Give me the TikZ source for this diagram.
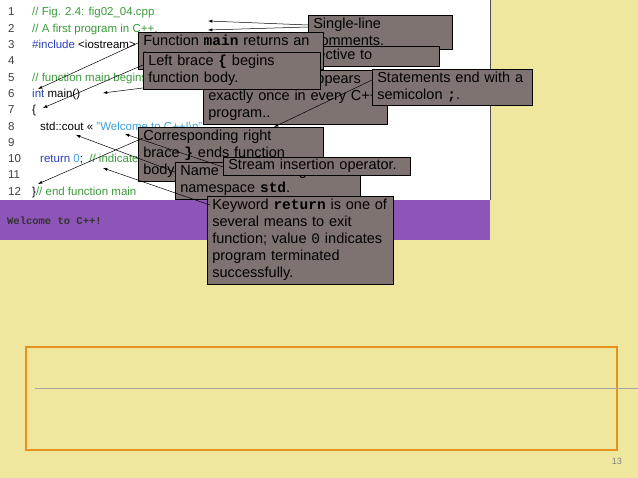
\documentclass[tikz,border=0pt]{standalone}
\usepackage{fontspec}
\setmainfont{Liberation Sans}
\setmonofont{Liberation Mono}
\begin{document}
\begin{tikzpicture}[x=1pt,y=-1pt,
  callout/.style={draw=black,fill=callgray,anchor=north west,align=left,inner ysep=3pt,inner xsep=5pt,font=\fontsize{14.5}{17}\selectfont,text=black,line width=0.6pt},
  pointer/.style={-latex,line width=0.5pt},
  codeline/.style={anchor=base west,inner sep=0pt,font=\fontsize{11.5}{13}\selectfont},
  lnum/.style={anchor=base west,inner sep=0pt,font=\fontsize{11.5}{13}\selectfont,text=black!75}]
\definecolor{callgray}{HTML}{7F7372}
\definecolor{bgyellow}{HTML}{EFE79E}
\definecolor{cgreen}{HTML}{3C9A3C}
\definecolor{cblue}{HTML}{2A3FB8}
\definecolor{clight}{HTML}{3FA0E0}
\definecolor{purp}{HTML}{8E55B8}
\definecolor{orng}{HTML}{E8901E}
\useasboundingbox (0,0) rectangle (638,478);
\fill[bgyellow] (0,0) rectangle (638,478);
\fill[white] (0,0) rectangle (490,200);
\draw[black!70,line width=0.8pt] (490,0) -- (490,200);
\fill[purp] (0,200) rectangle (490,240);
\node[anchor=base west,inner sep=0pt,font=\ttfamily\bfseries\fontsize{10.5}{12}\selectfont,text=black!80] (out) at (7,225) {Welcome to C++!};
% code
\foreach \n [count=\i] in {1,...,12} {\node[lnum] (n\i) at (8,{16+(\i-1)*16.3}) {\n};}
\node[codeline,text=cgreen] (c1) at (32,16) {// Fig. 2.4: fig02\_04.cpp};
\node[codeline,text=cgreen] (c2) at (32,32.3) {// A first program in C++.};
\node[codeline] (c3) at (32,48.6) {\textcolor{cblue}{\#include} <iostream>};
\node[codeline,text=cgreen] (c5) at (32,81.2) {// function main begins program execution};
\node[codeline] (c6) at (32,97.5) {\textcolor{cblue}{int} main()};
\node[codeline] (c7) at (32,113.8) {\{};
\node[codeline] (c8) at (40,130.1) {std::cout << \textcolor{clight}{"Welcome to C++!\textbackslash n";}};
\node[codeline] (c10) at (40,162.7) {\textcolor{cblue}{return} \textcolor{clight}{0};\ \ \textcolor{cgreen}{// indicate that program ended successfully}};
\node[codeline] (c12) at (32,195.3) {\}\textcolor{cgreen}{// end function main}};
% bottom frame
\draw[orng,line width=1.3pt] (26,347) rectangle (617,450);
\draw[gray!70,line width=0.6pt] (35,388) -- (638,388);
\node[anchor=base east,inner sep=0pt,font=\fontsize{9}{10}\selectfont,text=gray] (pg) at (622,465) {13};
% arrow tips
\coordinate (t1) at (208,21); \coordinate (t2) at (208,30);
\coordinate (t3) at (38,89); \coordinate (t4) at (103,93);
\coordinate (t5) at (43,108); \coordinate (t6) at (274,127);
\coordinate (t7) at (38,184); \coordinate (t8) at (76,135);
\coordinate (t9) at (125,134); \coordinate (t10) at (103,168);
% callouts
\node[callout,text width=134pt] (b1) at (308,15) {Single-line\\comments.};
\draw[pointer] (308,25) -- (t1);
\draw[pointer] (308,27) -- (t2);
\node[callout,text width=224pt] (b2) at (205,46) {Preprocessor directive to};
\node[callout,text width=174pt] (b5) at (203,70) {Function \texttt{\textbf{main}} appears\\exactly once in every C++\\program..};
\draw[pointer] (138,43) -- (t3);
\node[callout,text width=175pt] (b3) at (138,32) {Function \texttt{\textbf{main}} returns an\\integer value.};
\draw[pointer] (143,88) -- (t4);
\node[callout,text width=167pt] (b4) at (143,52) {Left brace \texttt{\textbf{\{}} begins\\function body.};
\draw[pointer] (143,65) -- (t5);
\node[callout,text width=150pt] (b6) at (372,69) {Statements end with a\\semicolon \texttt{\textbf{;}}.};
\draw[pointer] (372,80) -- (t6);
\node[callout,text width=175pt] (b7) at (138,127) {Corresponding right\\brace \texttt{\textbf{\}}} ends function\\body.};
\draw[pointer] (143,138) -- (t7);
\node[callout,text width=175pt] (b8) at (175,162) {Name \texttt{\textbf{cout}} belongs to\\namespace \texttt{\textbf{std}}.};
\draw[pointer] (175,172) -- (t8);
\node[callout,text width=177pt,inner ysep=2pt] (b9) at (223,157) {Stream insertion operator.};
\draw[pointer] (223,167) -- (t9);
\node[callout,text width=176pt] (b10) at (207,196) {Keyword \texttt{\textbf{return}} is one of\\several means to exit\\function; value \texttt{0} indicates\\program terminated\\successfully.};
\draw[pointer] (210,205) -- (t10);
\end{tikzpicture}
\end{document}
